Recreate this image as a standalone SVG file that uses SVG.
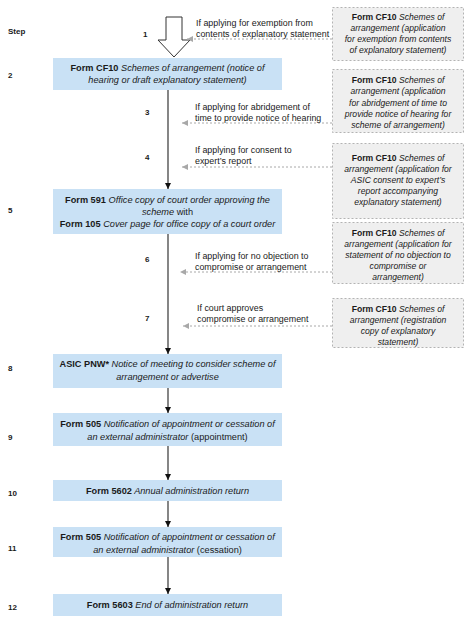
<svg xmlns="http://www.w3.org/2000/svg" width="474" height="622" viewBox="0 0 474 622">
<defs>
<marker id="ah" viewBox="0 0 10 10" refX="10" refY="5" markerWidth="6" markerHeight="6" markerUnits="userSpaceOnUse" orient="auto"><path d="M0,0 L10,5 L0,10 z" fill="#111"/></marker>
<marker id="gh" viewBox="0 0 10 10" refX="10" refY="5" markerWidth="6" markerHeight="6" markerUnits="userSpaceOnUse" orient="auto"><path d="M0,0 L10,5 L0,10 z" fill="#a8a8a8"/></marker>
</defs>
<style>
text{font-family:"Liberation Sans",Arial,sans-serif;fill:#1a1a1a}
.mb{fill:#c9e1f5}
.rb{fill:#efefef;stroke:#b3b3b3;stroke-width:1;stroke-dasharray:2,2}
.m{font-size:9.2px;text-anchor:middle}
.r{font-size:8.6px;text-anchor:middle}
.l{font-size:8.9px}
.st{font-size:8px;font-weight:bold}
.b{font-weight:bold}
.i{font-style:italic}
.c{stroke:#444;stroke-width:1.3;fill:none}
.d{stroke:#a8a8a8;stroke-width:1;stroke-dasharray:2,2;fill:none}
</style>
<rect width="474" height="622" fill="#fff"/>
<g id="steps">
<text class="st" x="8" y="34">Step</text>
<text class="st" x="143" y="37">1</text>
<text class="st" x="8" y="78">2</text>
<text class="st" x="145" y="115">3</text>
<text class="st" x="145" y="160">4</text>
<text class="st" x="8" y="213">5</text>
<text class="st" x="145" y="262">6</text>
<text class="st" x="145" y="321">7</text>
<text class="st" x="8" y="371">8</text>
<text class="st" x="8" y="440">9</text>
<text class="st" x="8" y="496">10</text>
<text class="st" x="8" y="551">11</text>
<text class="st" x="8" y="610">12</text>
</g>
<g id="connectors">
<polygon points="166,17 182,17 182,40 190,40 174,57 158,40 166,40" fill="#fff" stroke="#333" stroke-width="1"/>
<line class="c" x1="168" y1="90" x2="168" y2="189" marker-end="url(#ah)"/>
<line class="c" x1="168" y1="234" x2="168" y2="354" marker-end="url(#ah)"/>
<line class="c" x1="168" y1="388" x2="168" y2="413" marker-end="url(#ah)"/>
<line class="c" x1="168" y1="446" x2="168" y2="480" marker-end="url(#ah)"/>
<line class="c" x1="168" y1="501" x2="168" y2="527" marker-end="url(#ah)"/>
<line class="c" x1="168" y1="557" x2="168" y2="594" marker-end="url(#ah)"/>
<line class="d" x1="332" y1="39" x2="187" y2="39" marker-end="url(#gh)"/>
<line class="d" x1="332" y1="123" x2="182" y2="123" marker-end="url(#gh)"/>
<line class="d" x1="332" y1="167" x2="182" y2="167" marker-end="url(#gh)"/>
<line class="d" x1="332" y1="272" x2="180" y2="272" marker-end="url(#gh)"/>
<line class="d" x1="332" y1="326" x2="183" y2="326" marker-end="url(#gh)"/>
</g>
<g id="labels">
<text class="l" x="196" y="26">If applying for exemption from</text>
<text class="l" x="196" y="37">contents of explanatory statement</text>
<text class="l" x="195" y="110">If applying for abridgement of</text>
<text class="l" x="195" y="121">time to provide notice of hearing</text>
<text class="l" x="195" y="153">If applying for consent to</text>
<text class="l" x="195" y="164">expert’s report</text>
<text class="l" x="195" y="259">If applying for no objection to</text>
<text class="l" x="195" y="270">compromise or arrangement</text>
<text class="l" x="197" y="311">If court approves</text>
<text class="l" x="197" y="322">compromise or arrangement</text>
</g>
<g id="n2">
<rect class="mb" x="53" y="58" width="229" height="32"/>
<text class="m" x="167.5" y="71"><tspan class="b">Form CF10</tspan><tspan class="i"> Schemes of arrangement (notice of</tspan></text>
<text class="m i" x="167.5" y="83">hearing or draft explanatory statement)</text>
</g>
<g id="n5">
<rect class="mb" x="53" y="189" width="229" height="45"/>
<text class="m" x="167.5" y="203"><tspan class="b">Form 591</tspan><tspan class="i"> Office copy of court order approving the</tspan></text>
<text class="m" x="167.5" y="215"><tspan class="i">scheme</tspan> with</text>
<text class="m" x="167.5" y="227"><tspan class="b">Form 105</tspan><tspan class="i"> Cover page for office copy of a court order</tspan></text>
</g>
<g id="n8">
<rect class="mb" x="53" y="354" width="229" height="34"/>
<text class="m" x="167.5" y="367"><tspan class="b">ASIC PNW*</tspan><tspan class="i"> Notice of meeting to consider scheme of</tspan></text>
<text class="m i" x="167.5" y="380">arrangement or advertise</text>
</g>
<g id="n9">
<rect class="mb" x="53" y="413" width="229" height="33"/>
<text class="m" x="167.5" y="427"><tspan class="b">Form 505</tspan><tspan class="i"> Notification of appointment or cessation of</tspan></text>
<text class="m" x="167.5" y="440"><tspan class="i">an external administrator</tspan> (appointment)</text>
</g>
<g id="n10">
<rect class="mb" x="53" y="480" width="229" height="21"/>
<text class="m" x="167.5" y="494"><tspan class="b">Form 5602</tspan><tspan class="i"> Annual administration return</tspan></text>
</g>
<g id="n11">
<rect class="mb" x="53" y="527" width="229" height="30"/>
<text class="m" x="167.5" y="540"><tspan class="b">Form 505</tspan><tspan class="i"> Notification of appointment or cessation of</tspan></text>
<text class="m" x="167.5" y="553"><tspan class="i">an external administrator</tspan> (cessation)</text>
</g>
<g id="n12">
<rect class="mb" x="53" y="594" width="229" height="22"/>
<text class="m" x="167.5" y="608"><tspan class="b">Form 5603</tspan><tspan class="i"> End of administration return</tspan></text>
</g>
<g id="rA">
<rect class="rb" x="332.5" y="7.5" width="131" height="53"/>
<text class="r" x="398" y="20"><tspan class="b">Form CF10</tspan><tspan class="i"> Schemes of</tspan></text>
<text class="r i" x="398" y="31">arrangement (application</text>
<text class="r i" x="398" y="42">for exemption from contents</text>
<text class="r i" x="398" y="53">of explanatory statement)</text>
</g>
<g id="rB">
<rect class="rb" x="332.5" y="69.5" width="131" height="63"/>
<text class="r" x="398" y="83"><tspan class="b">Form CF10</tspan><tspan class="i"> Schemes of</tspan></text>
<text class="r i" x="398" y="94">arrangement (application</text>
<text class="r i" x="398" y="106">for abridgement of time to</text>
<text class="r i" x="398" y="117">provide notice of hearing for</text>
<text class="r i" x="398" y="128">scheme of arrangement)</text>
</g>
<g id="rC">
<rect class="rb" x="332.5" y="143.5" width="131" height="75"/>
<text class="r" x="398" y="161"><tspan class="b">Form CF10</tspan><tspan class="i"> Schemes of</tspan></text>
<text class="r i" x="398" y="172">arrangement (application for</text>
<text class="r i" x="398" y="183">ASIC consent to expert’s</text>
<text class="r i" x="398" y="194">report accompanying</text>
<text class="r i" x="398" y="205">explanatory statement)</text>
</g>
<g id="rD">
<rect class="rb" x="332.5" y="222.5" width="131" height="61"/>
<text class="r" x="398" y="236"><tspan class="b">Form CF10</tspan><tspan class="i"> Schemes of</tspan></text>
<text class="r i" x="398" y="247">arrangement (application for</text>
<text class="r i" x="398" y="258">statement of no objection to</text>
<text class="r i" x="398" y="269">compromise or</text>
<text class="r i" x="398" y="280">arrangement)</text>
</g>
<g id="rE">
<rect class="rb" x="332.5" y="298.5" width="131" height="49"/>
<text class="r" x="398" y="312"><tspan class="b">Form CF10</tspan><tspan class="i"> Schemes of</tspan></text>
<text class="r i" x="398" y="323">arrangement (registration</text>
<text class="r i" x="398" y="334">copy of explanatory</text>
<text class="r i" x="398" y="345">statement)</text>
</g>
</svg>
